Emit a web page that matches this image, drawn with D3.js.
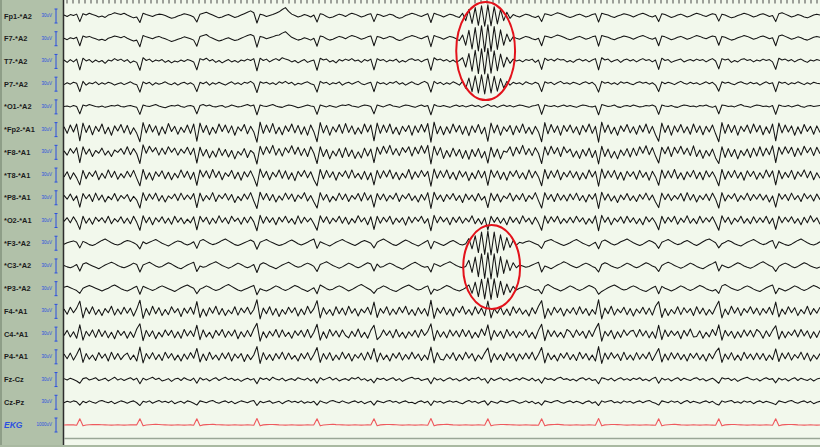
<!DOCTYPE html>
<html lang="en">
<head>
<meta charset="UTF-8">
<title>EEG page</title>
<script src="https://d3js.org/d3.v7.min.js"></script>
<style>
  body { margin: 0; background: #f2f8ec; overflow: hidden; }
  svg { display: block; }
</style>
</head>
<body>
<script>

// montage labels, top to bottom
var channelNames = ["Fp1-*A2", "F7-*A2", "T7-*A2", "P7-*A2", "*O1-*A2",
    "*Fp2-*A1", "*F8-*A1", "*T8-*A1", "*P8-*A1", "*O2-*A1",
    "*F3-*A2", "*C3-*A2", "*P3-*A2", "F4-*A1", "C4-*A1", "P4-*A1",
    "Fz-Cz", "Cz-Pz", "EKG"];
var scaleLabels = ["30uV", "30uV", "30uV", "30uV", "30uV", "30uV", "30uV", "30uV", "30uV", "30uV",
    "30uV", "30uV", "30uV", "30uV", "30uV", "30uV", "30uV", "30uV", "1000uV"];

// page length in seconds (ruler ticks every 0.1 s)
var pageSeconds = 12.6;

// samples in uV, 240 per channel
var fp1 = [
  2,-1,3,1,4,-12,5,2,6,3, 1,-2,0,-3,2,4,7,5,3,6,
  2,-1,-4,-2,-14,6,3,1,-1,2, 4,3,1,-2,-5,-3,0,2,5,3,
  1,-2,-13,4,6,8,5,2,-1,-4, -2,1,3,0,-3,-1,2,5,8,11,
  7,-15,4,2,-1,1,3,6,9,14, 18,10,4,1,-2,0,3,1,-2,2,
  -13,5,3,-1,-4,-2,1,4,2,-1, 3,6,4,1,-2,0,3,5,-12,4,
  2,-1,1,4,2,-2,-5,-3,1,3, 6,4,1,-1,2,5,-14,6,3,1,
  -2,1,4,2,-1,-3,6,-10,14,-16, 18,-20,22,-22,24,-21,20,-17,14,-10,
  8,-5,3,0,-2,1,4,2,-1,-3, 0,-12,5,3,1,4,7,5,2,-1,
  -3,-1,2,4,1,-2,0,3,5,-13, 6,4,2,-1,-3,0,2,5,3,1,
  -2,1,4,6,3,0,-2,1,-12,5, 3,0,-3,-1,2,4,1,-2,0,3,
  6,4,1,-1,2,5,3,-11,4,2, -1,-4,-2,1,3,6,4,1,-2,0,
  3,5,2,-1,1,-12,5,7,4,1, -2,0,3,1,-2,-4,-1,2,4,2
];
var f7 = [
  1,-2,2,0,3,-15,6,3,5,2, 0,-3,-1,-4,1,3,6,4,2,5,
  1,-2,-5,-3,-17,7,4,2,0,3, 5,2,0,-3,-6,-4,-1,1,4,2,
  0,-3,-16,5,7,9,4,1,-2,-5, -3,0,2,-1,-4,-2,1,4,7,9,
  6,-18,5,3,0,2,4,7,8,12, 15,9,3,0,-3,-1,2,0,-3,1,
  -16,6,4,0,-3,-1,2,5,3,0, 4,7,5,2,-1,1,4,6,-15,5,
  3,0,2,5,3,-1,-4,-2,2,4, 7,5,2,0,3,6,-17,7,4,2,
  -1,2,5,3,0,-4,8,-14,18,-22, 24,-26,28,-28,30,-27,26,-23,19,-14,
  10,-6,4,1,-1,2,5,3,0,-2, 1,-15,6,4,2,5,8,6,3,0,
  -2,0,3,5,2,-1,1,4,6,-16, 7,5,3,0,-2,1,3,6,4,2,
  -1,2,5,7,4,1,-1,2,-15,6, 4,1,-2,0,3,5,2,-1,1,4,
  7,5,2,0,3,6,4,-14,5,3, 0,-3,-1,2,4,7,5,2,-1,1,
  4,6,3,0,2,-15,6,8,5,2, -1,1,4,2,-1,-3,0,3,5,3
];
var t7 = [
  3,-2,4,-1,5,-18,7,1,4,-2, 3,-1,2,-4,3,1,6,2,5,0,
  4,-3,1,-2,-19,8,2,5,-1,3, 1,4,-2,2,-3,1,-1,3,0,4,
  2,-1,-18,6,3,7,1,4,-2,2, -3,1,4,-1,2,-2,3,1,5,2,
  6,-20,7,2,5,-1,3,6,2,8, 5,3,-1,2,-3,1,4,-2,1,3,
  -19,7,3,5,-1,2,-3,4,1,5, 2,6,1,3,-2,4,1,5,-18,6,
  2,4,-1,3,1,5,-2,2,-1,4, 6,2,4,-1,3,5,-19,8,3,5,
  1,4,-1,3,-2,2,8,-12,17,-21, 24,-26,27,-27,28,-25,23,-20,16,-12,
  9,-4,5,1,3,-1,4,2,5,-2, 3,-17,7,2,5,1,6,3,4,-1,
  2,-2,3,5,1,4,-1,3,6,-18, 8,3,5,-1,2,4,-2,3,5,1,
  4,-1,3,6,2,4,-1,3,-17,7, 2,4,-2,1,3,5,-1,2,4,1,
  5,2,4,-1,3,6,1,-16,6,3, 5,-2,2,-1,4,6,2,4,-1,3,
  1,5,2,4,-1,-17,7,3,5,1, 4,-1,3,5,1,-2,3,1,4,2
];
var p7 = [
  -1,3,0,4,2,-16,6,-2,3,1, 5,-1,3,0,4,2,-2,1,3,-1,
  2,5,1,-1,-17,5,1,4,-2,3, 0,2,5,1,-1,3,-2,2,4,0,
  3,-1,-16,4,1,5,-2,3,0,4, 1,-2,2,5,0,3,-1,4,2,6,
  1,-18,5,2,4,0,3,-1,5,2, 6,1,4,-2,2,0,3,5,1,-1,
  -17,6,2,4,-1,3,1,5,-2,2, 4,0,3,6,1,-1,2,4,-16,5,
  1,3,-1,4,2,6,0,3,-2,2, 5,1,-1,3,6,2,-17,6,1,4,
  -1,3,0,5,2,-2,6,-9,13,-16, 18,-19,20,-21,22,-19,17,-15,12,-8,
  6,-2,4,1,3,-1,5,2,0,4, 1,-16,5,2,4,-1,3,6,1,3,
  0,4,2,-1,3,5,1,4,-2,-17, 6,2,4,0,3,-1,5,2,4,1,
  -1,3,5,2,4,0,3,-2,-16,5, 1,4,2,-1,3,6,2,0,4,1,
  3,-1,2,5,1,4,-2,-15,5,2, 4,1,-1,3,5,2,0,4,1,3,
  -2,2,5,1,3,-16,5,2,4,-1, 3,1,5,2,-1,3,0,4,2,1
];
var o1 = [
  1,2,0,3,1,-15,4,2,5,3, 1,0,2,-1,1,3,2,4,1,0,
  2,3,1,-1,-16,4,2,1,3,5, 2,0,-2,1,3,2,4,1,-1,2,
  3,1,-15,3,5,2,4,1,0,2, 3,-1,1,4,2,0,1,3,5,2,
  4,-17,4,2,1,3,5,2,0,-1, 2,4,3,1,-2,0,2,4,2,1,
  -16,4,2,0,3,1,-1,2,4,3, 5,2,1,-1,2,4,3,1,-15,4,
  2,0,3,5,2,1,-1,2,4,3, 1,-1,2,4,1,3,-17,5,2,1,
  3,1,-1,2,4,1,3,0,2,4, 1,3,-1,2,5,1,3,-1,2,4,
  1,3,0,2,4,3,1,-1,2,3, 5,-16,4,2,1,3,0,2,4,1,
  3,1,-1,2,4,3,1,0,2,-17, 5,3,1,2,4,0,-1,2,3,1,
  4,2,0,1,3,2,4,1,-16,4, 2,1,3,0,-1,2,4,3,1,2,
  0,3,2,4,1,-1,2,-15,4,3, 1,2,0,3,5,2,1,-1,2,4,
  3,1,2,0,3,-16,4,2,1,3, 0,2,4,1,-1,2,3,1,2,3
];
var fp2 = [
  6,-8,10,-5,12,-24,14,-6,9,-11, 7,-4,12,-9,5,-12,8,-3,11,-7,
  9,-10,4,-8,-26,15,-7,11,-5,8, -12,6,-9,13,-4,7,-10,5,-6,10,
  -8,12,-25,14,-6,9,-11,5,-8,12, -4,10,-7,8,-12,6,-3,11,-9,7,
  -5,-27,16,-8,10,-6,13,-9,5,-11, 8,-4,12,-7,9,-10,6,-12,10,-5,
  -26,15,-7,9,-12,6,-5,11,-8,13, -6,8,-10,4,-9,12,-5,10,-24,14,
  -8,10,-6,12,-9,5,-11,7,-4,9, -12,8,-6,11,-5,13,-27,16,-9,7,
  -11,6,-8,12,-5,9,-10,7,-13,8, -6,11,-9,5,-25,14,-7,10,-12,6,
  -4,9,-11,8,-6,12,-8,5,-10,7, -5,-26,15,-9,11,-6,8,-12,9,-4,
  10,-7,6,-11,9,-5,12,-8,7,-27, 16,-6,10,-9,5,-12,8,-4,11,-7,
  6,-10,9,-5,12,-8,7,-11,-25,14, -6,9,-12,8,-5,11,-7,6,-10,12,
  -6,8,-11,7,-5,10,-9,-26,15,-8, 11,-6,9,-12,7,-4,10,-8,12,-5,
  9,-11,6,-8,12,-24,14,-7,10,-5, 8,-12,6,-9,11,-4,7,-10,8,-6
];
var f8 = [
  3,-6,8,-2,10,-22,12,-4,7,-9, 4,-2,9,-6,3,-9,5,0,8,-4,
  12,-5,8,-3,-24,16,-2,13,1,10, -6,9,-4,12,0,9,-6,7,-2,11,
  -5,9,-23,11,-8,6,-12,3,-10,9, -7,6,-10,4,-14,2,-6,8,-11,4,
  -2,-25,13,-5,12,-2,15,-6,8,-8, 10,-1,14,-4,11,-7,8,-9,12,-2,
  -24,12,-9,6,-14,3,-8,8,-11,10, -9,5,-13,1,-12,9,-8,7,-22,11,
  -4,13,-2,15,-5,8,-7,10,0,12, -8,11,-3,14,-2,15,-25,13,-6,10,
  -13,4,-10,9,-8,6,-13,4,-15,6, -9,8,-12,2,-23,11,-10,7,-14,3,
  0,12,-8,11,-3,15,-5,8,-7,10, -2,-24,12,-6,13,-3,10,-9,12,-1,
  7,-10,3,-13,6,-8,9,-11,4,-25, 13,-9,7,-12,2,-14,5,-7,8,-10,
  9,-7,12,-2,14,-5,10,-8,-23,11, -3,12,-9,11,-2,13,-4,9,-7,14,
  -9,5,-13,4,-8,7,-12,-24,12,-11, 8,-9,6,-14,4,-7,7,-11,9,-8,
  12,-8,9,-5,14,-22,11,-4,12,-2, 11,-9,9,-6,13,-1,10,-7,11,-3
];
var t8 = [
  -4,7,-9,5,-6,-21,10,-8,6,-3, 9,-10,4,-7,11,-5,8,-9,3,-6,
  8,-4,10,-7,-23,12,-9,5,-11,7, -3,9,-8,6,-10,4,-6,11,-5,8,
  -9,6,-22,11,-4,9,-7,12,-5,8, -10,5,-3,10,-8,6,-11,7,-4,9,
  -6,-24,13,-5,8,-10,6,-4,11,-7, 9,-9,5,-12,8,-3,10,-6,7,-10,
  -23,12,-8,10,-5,7,-11,6,-3,9, -7,11,-6,4,-9,8,-10,5,-21,10,
  -7,9,-4,11,-8,6,-10,4,-6,12, -9,7,-5,10,-3,8,-24,13,-7,9,
  -5,11,-8,6,-10,9,-4,7,-12,5, -8,10,-6,8,-22,11,-5,9,-9,6,
  -11,8,-3,10,-7,5,-9,11,-6,8, -4,-23,12,-8,9,-5,11,-10,6,-4,
  9,-6,7,-10,5,-8,11,-4,8,-24, 13,-7,9,-5,10,-9,6,-11,8,-3,
  7,-9,10,-5,6,-11,8,-4,-22,11, -7,9,-6,12,-8,5,-10,7,-4,10,
  -8,6,-10,9,-4,7,-6,-23,12,-9, 8,-5,10,-7,6,-11,9,-3,8,-9,
  5,-7,11,-4,9,-21,10,-8,6,-5, 10,-9,7,-3,11,-6,8,-10,5,-7
];
var p8 = [
  5,-3,8,-6,4,-20,9,-2,7,-8, 10,-5,6,-9,3,-4,9,-7,5,-2,
  7,-8,3,-5,-22,11,-6,8,-3,10, -7,5,-9,4,-2,8,-6,10,-4,6,
  -3,9,-21,10,-7,5,-4,11,-8,6, -2,9,-5,7,-10,3,-6,8,-3,11,
  -7,-23,12,-4,9,-6,7,-9,4,-5, 10,-3,8,-8,6,-2,11,-7,5,-9,
  -22,11,-5,7,-9,3,-6,10,-4,8, -8,5,-3,9,-7,11,-5,6,-20,9,
  -4,8,-7,5,-3,10,-8,6,-2,9, -6,4,-9,7,-5,11,-23,12,-4,6,
  -8,7,-3,9,-6,5,-10,8,-4,6, -7,9,-5,3,-21,10,-6,8,-9,4,
  -2,10,-7,6,-4,9,-8,5,-3,11, -6,-22,11,-4,7,-8,9,-5,6,-7,
  8,-4,10,-6,5,-9,7,-3,9,-23, 12,-5,8,-7,4,-10,6,-4,9,-6,
  4,-8,7,-3,10,-5,6,-9,-21,10, -4,8,-6,5,-3,9,-7,11,-5,7,
  -9,5,-4,8,-6,10,-3,-22,11,-7, 6,-2,9,-8,5,-4,10,-6,7,-3,
  8,-5,6,-9,4,-20,9,-3,7,-6, 10,-4,5,-8,9,-2,6,-7,8,-4
];
var o2 = [
  -2,6,-5,8,-3,-19,9,-6,5,-8, 7,-2,6,-5,9,-7,4,-3,8,-6,
  5,-7,9,-4,-21,10,-5,7,-9,6, -3,8,-6,5,-8,9,-4,6,-7,3,
  -5,8,-20,9,-3,7,-8,5,-6,10, -4,6,-7,9,-2,5,-8,7,-5,8,
  -3,-22,11,-6,8,-4,6,-9,7,-3, 9,-5,4,-8,10,-6,7,-3,5,-7,
  -21,10,-4,8,-7,5,-3,9,-6,7, -8,4,-5,10,-3,6,-9,8,-19,9,
  -6,7,-3,9,-8,5,-4,6,-10,8, -5,7,-2,9,-6,4,-22,11,-5,8,
  -3,6,-9,7,-4,8,-6,5,-3,10, -7,4,-8,6,-20,9,-4,7,-6,5,
  -9,8,-4,6,-7,10,-3,5,-8,7, -5,-21,10,-6,8,-3,9,-7,4,-5,
  7,-5,9,-3,6,-8,4,-6,10,-22, 11,-4,7,-9,5,-3,8,-6,9,-4,
  6,-7,4,-9,8,-3,6,-5,-20,9, -6,7,-3,9,-8,5,-4,10,-6,4,
  -7,9,-5,6,-3,8,-6,-21,10,-4, 7,-8,5,-3,9,-6,4,-7,8,-5,
  6,-4,9,-7,5,-19,9,-5,7,-3, 8,-6,4,-9,7,-5,10,-3,6,-8
];
var f3 = [
  -2,1,3,5,2,-10,4,1,-3,-5, -2,2,6,9,5,1,-2,-4,-1,3,
  6,4,1,-3,-12,3,-1,2,5,8, 4,0,-3,-6,-2,2,5,3,-1,-4,
  -1,3,-11,5,8,4,0,-3,-1,2, 6,9,5,1,-3,-5,-2,1,4,7,
  3,-13,2,5,8,4,1,-2,-5,-3, 0,4,7,3,-1,-4,-1,2,6,9,
  -11,3,0,-3,-6,-2,2,5,8,4, 1,-2,-5,-1,3,6,3,0,-10,2,
  6,9,5,1,-3,-5,-1,3,7,4, 0,-3,-6,-2,2,6,-12,4,1,-2,
  -5,-1,3,6,2,-2,-4,-1,10,-12, 16,-20,24,-24,26,-25,24,-21,18,-15,
  12,-9,6,-4,2,0,3,5,2,-1, -4,-11,3,6,8,4,1,-2,-5,-2,
  1,5,8,4,0,-3,-6,-2,2,-12, 4,7,3,-1,-4,-1,3,6,9,5,
  1,-2,-5,-2,2,6,3,-1,-11,2, 5,8,4,0,-3,-1,3,6,2,-2,
  -5,-1,3,7,9,5,1,-10,-1,2, 6,3,-1,-4,-6,-2,2,5,8,4,
  0,-3,-1,3,6,-11,3,0,-3,-5, -2,2,6,9,5,1,-2,-4,-1,3
];
var c3 = [
  1,-2,-4,-1,3,-11,4,7,3,0, -3,-6,-2,2,5,8,5,1,-2,-4,
  -1,2,6,3,-13,2,5,8,4,0, -3,-1,3,7,4,0,-4,-6,-2,2,
  5,8,-12,0,-3,-1,3,6,9,5, 1,-2,-5,-2,2,6,3,-1,-4,-1,
  3,-14,3,7,4,0,-3,-6,-2,2, 5,8,4,0,-3,-1,3,6,3,-1,
  -12,3,6,9,5,1,-2,-5,-2,2, 6,3,-1,-4,-1,3,7,4,-11,4,
  -3,-1,3,6,3,-1,-4,-7,-3,1, 5,8,4,0,-3,-1,-13,5,2,-1,
  3,6,9,5,1,-2,-4,-1,12,-14, 19,-23,26,-27,28,-28,26,-24,20,-16,
  13,-10,7,-4,2,0,-3,-1,2,5, 8,-13,0,-3,-6,-2,2,5,9,6,
  2,-1,-4,-1,3,6,3,-1,-4,-13, 3,7,4,0,-3,-5,-2,2,6,3,
  -1,-4,-1,3,7,4,0,-3,-12,1, 5,8,5,1,-2,-5,-2,2,6,3,
  -1,-4,-6,-2,2,5,9,-11,2,-1, -4,-1,3,7,4,0,-3,-5,-2,2,
  6,9,5,1,-2,-12,-1,3,6,3, -1,-4,-1,3,7,4,0,-3,-5,-2
];
var p3 = [
  3,5,2,-1,-4,-10,1,4,7,4, 1,-2,-5,-2,1,5,8,4,0,-3,
  -5,-2,2,5,-12,5,2,-1,-4,-1, 3,6,3,0,-3,-6,-2,2,5,8,
  4,1,-11,-1,2,6,3,-1,-4,-2, 2,6,9,5,1,-3,-5,-2,1,4,
  7,-13,0,-3,-5,-2,2,6,3,-1, -4,-1,3,7,4,0,-3,-6,-2,2,
  -11,8,4,0,-3,-1,3,6,3,-1, -5,-2,2,6,9,5,1,-3,-10,-1,
  2,6,3,-1,-4,-6,-2,2,5,8, 4,0,-3,-1,3,6,-12,-1,-4,-1,
  3,7,4,0,-3,-5,-2,2,8,-10, 14,-17,20,-22,23,-23,21,-19,16,-13,
  10,-8,5,-3,1,3,6,3,-1,-4, -2,-11,5,9,5,1,-2,-5,-2,2,
  6,3,-1,-4,-1,3,7,4,0,-12, -6,-2,2,5,8,4,0,-3,-1,3,
  6,3,-1,-4,-6,-2,2,5,-11,5, 1,-2,-5,-2,2,6,3,-1,-4,-1,
  3,7,4,0,-3,-5,-2,-10,6,9, 5,1,-2,-4,-1,3,6,3,-1,-4,
  -6,-2,2,5,8,-11,1,-2,-5,-2, 2,6,3,-1,-4,-1,3,7,4,0
];
var f4 = [
  5,-6,9,-3,7,22,-14,8,-5,10, -7,4,-9,6,-3,11,-8,5,-6,9,
  -4,7,-10,5,24,-15,6,-8,11,-5, 8,-9,4,-7,10,-3,6,-11,7,-4,
  9,-6,21,-13,5,-10,8,-4,11,-7, 6,-9,3,-5,10,-8,7,-3,9,-6,
  4,25,-16,7,-5,10,-8,6,-11,4, -6,9,-3,8,-10,5,-7,11,-4,6,
  23,-14,8,-6,4,-9,10,-5,7,-8, 11,-4,6,-10,5,-3,9,-7,20,-13,
  6,-4,10,-8,5,-6,9,-3,11,-7, 4,-9,8,-5,6,-10,24,-15,7,-4,
  9,-7,5,-10,8,-3,11,-6,4,-8, 10,-5,7,-9,22,-14,6,-4,9,-7,
  5,-9,10,-4,7,-6,3,-10,8,-5, 11,23,-15,6,-8,9,-3,7,-10,5,
  -4,8,-7,10,-5,6,-9,4,-6,25, -16,7,-5,11,-8,5,-3,9,-7,6,
  -10,5,-4,9,-6,7,-8,11,21,-13, 6,-9,4,-5,10,-7,8,-3,6,-9,
  10,-5,7,-8,4,-6,9,22,-14,5, -7,11,-4,8,-9,6,-3,10,-5,7,
  -8,6,-4,9,-7,20,-12,5,-6,10, -3,8,-9,4,-5,11,-7,6,-4,9
];
var c4 = [
  -3,8,-6,5,-9,20,-13,6,-4,9, -7,10,-5,7,-8,4,-10,8,-3,6,
  -9,5,-7,11,22,-14,8,-5,7,-10, 4,-6,9,-3,8,-8,5,-9,10,-4,
  7,-5,19,-12,9,-6,4,-9,8,-3, 10,-7,6,-4,9,-10,5,-6,8,-5,
  11,23,-15,5,-8,6,-4,10,-7,9, -5,4,-9,7,-3,8,-6,10,-8,4,
  21,-13,5,-9,10,-4,7,-6,9,-3, -8,6,-5,11,-7,4,-9,8,19,-12,
  -5,9,-3,7,-8,10,-6,4,-9,5, -4,8,-7,10,-3,6,22,-14,8,-6,
  5,-8,9,-4,7,-6,10,-5,8,-9, 4,-7,11,-3,20,-13,8,-5,6,-9,
  10,-4,6,-8,5,-3,9,-7,4,-10, 8,21,-14,9,-5,7,-6,4,-8,10,
  5,-7,9,-3,6,-9,8,-5,11,23, -15,6,-4,8,-10,5,-7,9,-3,6,
  8,-6,10,-4,7,-8,5,-9,19,-12, 9,-5,7,-3,6,-10,8,-4,11,-6,
  -5,7,-9,4,-6,10,-3,20,-13,8, -4,6,-9,5,-7,9,-4,8,-6,10,
  4,-9,7,-5,8,18,-11,6,-8,5, -3,9,-6,10,-4,7,-9,5,-7,8
];
var p4 = [
  6,-4,8,-7,5,19,-12,7,-5,4, -8,9,-3,6,-9,10,-5,7,-6,3,
  8,-6,4,-9,21,-13,7,-4,9,-6, 5,-8,10,-3,7,-7,4,-9,6,-5,
  9,-3,18,-11,6,-8,10,-5,4,-7, 8,-4,9,-9,6,-3,7,-10,5,-6,
  4,22,-14,9,-6,5,-8,7,-4,10, -6,8,-5,3,-9,7,-4,9,-7,5,
  20,-12,7,-5,9,-8,4,-6,10,-4, 7,-9,5,-3,8,-7,10,-5,18,-11,
  8,-6,4,-9,7,-3,9,-7,5,-5, 10,-4,6,-8,4,-6,21,-13,9,-5,
  -7,6,-4,9,-8,5,-6,10,-3,7, -9,4,-5,8,19,-12,7,-6,5,-8,
  9,-3,7,-9,6,-5,8,-4,10,-7, 5,20,-13,8,-6,4,-9,7,-3,9,
  -6,5,-8,10,-4,7,-7,4,-9,22, -14,8,-5,9,-3,6,-8,10,-6,4,
  -7,9,-5,6,-4,10,-8,5,18,-11, 6,-7,9,-4,8,-6,5,-9,7,-3,
  8,-6,5,-9,7,-4,10,19,-12,6, -5,9,-7,4,-8,10,-4,6,-6,8,
  -5,7,-8,4,-6,17,-10,8,-4,9, -7,5,-3,10,-6,8,-9,4,-5,7
];
var fzCz = [
  2,-1,3,0,-3,-8,2,4,-1,1, 4,-2,0,3,-3,1,5,-1,2,-2,
  1,4,-1,3,-9,3,-1,2,5,0, 3,-3,-1,2,-4,1,3,-2,4,0,
  -2,3,-8,4,-1,2,-3,1,4,-2, 2,5,0,3,-2,1,-4,0,3,-1,
  2,-9,4,0,3,-2,5,1,-1,3, -3,0,2,-2,4,1,-1,3,-3,2,
  -8,4,-1,2,5,-1,3,-3,0,2, -2,4,1,5,-1,2,-3,1,-7,3,
  0,3,-2,1,4,-2,2,-4,0,3, 5,1,3,-2,0,2,-9,4,-1,2,
  -3,1,4,-1,2,-3,0,4,-2,3, 1,5,-1,2,-8,3,-2,1,4,-1,
  2,-3,0,3,-1,4,1,-2,3,-3, 1,-8,4,0,2,-2,3,5,0,2,
  -2,1,-3,2,4,-1,3,-2,0,-9, 4,2,-1,3,-3,1,4,-1,2,-2,
  3,0,4,-2,1,-3,2,5,-8,3, -1,2,-3,1,4,-2,3,0,-2,2,
  4,-1,2,-3,0,3,-2,-8,4,1, 3,-2,2,-4,0,3,5,1,-1,2,
  -3,1,4,0,2,-7,3,-1,2,-3, 1,4,-2,3,0,-2,2,-3,1,3
];
var czPz = [
  -1,2,0,3,1,-6,2,-1,3,0, -2,2,4,1,-1,2,-3,0,3,1,
  -2,1,3,-1,-7,2,0,3,-2,1, 4,0,2,-1,3,-3,0,2,-2,3,
  1,-2,-6,3,1,-1,2,4,0,-2, 1,3,-1,2,-3,0,3,1,-1,2,
  4,-7,2,-1,1,3,-2,0,2,-3, 1,4,0,2,-1,3,-2,1,-1,2,
  -6,3,0,-2,2,4,1,-1,3,0, -2,1,3,-1,2,-3,0,2,-6,3,
  1,-1,2,4,0,2,-2,1,3,-1, 0,-3,1,3,-1,2,-7,3,0,2,
  -2,1,3,0,2,-1,-3,1,4,0, 2,-2,1,3,-6,2,0,-2,3,1,
  -1,2,4,1,-2,0,3,-1,2,-3, 0,-6,3,1,-1,2,4,0,-2,1,
  3,-1,2,0,-3,1,3,-2,1,-7, 3,0,2,4,-1,1,-2,3,0,2,
  -2,1,3,-1,2,4,0,-2,-6,3, 1,-1,3,0,2,-3,1,4,-1,2,
  0,-2,1,3,-1,2,-3,-6,3,0, 2,4,-1,1,-2,3,0,2,-3,1,
  3,-1,2,0,-2,-5,3,1,-1,2, 4,0,-2,1,3,-1,2,-3,0,2
];
var ekg = [
  0,10,20,10,-20,450,-60,0,20,30, 40,30,20,10,0,-10,0,10,0,-10,
  0,10,20,10,450,-60,0,20,40,50, 40,20,10,0,-10,0,10,0,-10,0,
  10,-20,440,-50,10,30,40,50,30,20, 10,0,-10,0,10,0,-10,0,10,0,
  -20,460,-60,10,30,40,40,30,10,0, -10,0,10,0,-10,-10,0,10,0,10,
  450,-60,0,20,40,50,30,20,10,0, -10,0,10,0,-10,0,10,0,440,-50,
  10,30,40,40,30,20,0,-10,0,10, 0,-10,0,10,0,-20,460,-60,10,30,
  40,50,30,10,0,-10,0,10,0,-10, 0,10,0,-20,450,-60,0,20,40,40,
  30,20,10,0,-10,0,10,0,-10,0, -20,450,-60,10,30,40,50,30,10,0,
  -10,0,10,0,-10,0,10,0,-20,460, -60,10,20,40,40,30,20,0,-10,0,
  10,0,-10,0,10,0,-10,-20,450,-60, 0,20,40,50,30,10,0,-10,0,10,
  0,-10,0,10,0,-10,-20,450,-60,10, 30,40,40,20,10,0,-10,0,10,0,
  -10,0,10,0,-20,440,-50,10,30,40, 40,30,10,0,-10,0,10,0,-10,0
];

// red marks around the two bursts: centre sample, centre row, half width (samples), half height (rows)
var markSample = [133.3, 135.2];
var markRow = [1.54, 11.05];
var markHalfW = [9.3, 9.0];
var markHalfH = [2.16, 1.85];

var channelData = [fp1, f7, t7, p7, o1, fp2, f8, t8, p8, o2, f3, c3, p3, f4, c4, p4, fzCz, czPz, ekg];

var width = 820, height = 447;
var left = 64;

var svg = d3.select("body").append("svg")
    .attr("width", width)
    .attr("height", height);

var xScale = d3.scaleLinear().domain([0, fp1.length - 1]).range([left, width]);
var tScale = d3.scaleLinear().domain([0, pageSeconds]).range([left, width]);
var rowScale = d3.scaleLinear().domain([0, 18]).range([16, 425]);
var uvScale = d3.scaleLinear().domain([-15, 15]).range([7, -7]);
var ekgScale = d3.scaleLinear().domain([-500, 500]).range([7, -7]);

// backgrounds
svg.append("rect").attr("x", left).attr("y", 0).attr("width", width - left).attr("height", height).attr("fill", "#f2f8ec");
svg.append("rect").attr("x", 0).attr("y", 0).attr("width", left - 1).attr("height", height).attr("fill", "#b1c1a9");
svg.append("rect").attr("x", 0).attr("y", 0).attr("width", 2).attr("height", height).attr("fill", "#8e9e88");
svg.append("line").attr("x1", left - 0.5).attr("x2", left - 0.5).attr("y1", 0).attr("y2", height)
    .attr("stroke", "#2d2d2d").attr("stroke-width", 1.5);

// ruler ticks on top
svg.selectAll("line.tick").data(d3.range(0.05, pageSeconds, 0.1)).enter().append("line")
    .attr("class", "tick")
    .attr("x1", function (d) { return tScale(d); })
    .attr("x2", function (d) { return tScale(d); })
    .attr("y1", 0).attr("y2", 3.5)
    .attr("stroke", "#333").attr("stroke-width", 0.9);

// bottom lines
svg.append("line").attr("x1", left).attr("x2", width).attr("y1", 438.5).attr("y2", 438.5)
    .attr("stroke", "#9aa696").attr("stroke-width", 1.5);
svg.append("line").attr("x1", 0).attr("x2", width).attr("y1", 446).attr("y2", 446)
    .attr("stroke", "#a9b9a1").attr("stroke-width", 2);

// channel labels
svg.selectAll("text.name").data(channelNames).enter().append("text")
    .attr("class", "name")
    .attr("x", 4)
    .attr("y", function (d, i) { return rowScale(i) + 2.5; })
    .attr("font-family", "Liberation Sans, Arial, sans-serif")
    .attr("font-size", function (d, i) { return i == 18 ? 8.5 : 7.4; })
    .attr("font-weight", "bold")
    .attr("font-style", function (d, i) { return i == 18 ? "italic" : "normal"; })
    .attr("fill", function (d, i) { return i == 18 ? "#2b4fe0" : "#1c1c1c"; })
    .text(function (d) { return d; });

// calibration text + bars
svg.selectAll("text.cal").data(scaleLabels).enter().append("text")
    .attr("class", "cal")
    .attr("x", 52)
    .attr("y", function (d, i) { return rowScale(i) + 1; })
    .attr("text-anchor", "end")
    .attr("font-family", "Liberation Sans, Arial, sans-serif")
    .attr("font-size", 4.5)
    .attr("fill", "#2b4fe0")
    .text(function (d) { return d; });

var cal = svg.selectAll("g.cal").data(channelNames).enter().append("g")
    .attr("class", "cal")
    .attr("transform", function (d, i) { return "translate(56," + rowScale(i) + ")"; })
    .attr("stroke", "#2b4fe0").attr("stroke-width", 1);
cal.append("line").attr("x1", 0).attr("x2", 0).attr("y1", uvScale(-15)).attr("y2", uvScale(15));
cal.append("line").attr("x1", -1.5).attr("x2", 1.5).attr("y1", uvScale(-15)).attr("y2", uvScale(-15));
cal.append("line").attr("x1", -1.5).attr("x2", 1.5).attr("y1", uvScale(15)).attr("y2", uvScale(15));

// traces
svg.selectAll("path.trace").data(channelData).enter().append("path")
    .attr("class", "trace")
    .attr("fill", "none")
    .attr("stroke", function (d, i) { return i == 18 ? "#ee5a5e" : "#141414"; })
    .attr("stroke-width", function (d, i) { return i == 18 ? 1.1 : 1.05; })
    .attr("stroke-linejoin", "round")
    .attr("d", function (d, i) {
        var yS = i == 18 ? ekgScale : uvScale;
        var base = rowScale(i);
        return d3.line()
            .x(function (v, j) { return xScale(j); })
            .y(function (v) { return base + yS(v); })(d);
    });

// red ellipses
svg.selectAll("ellipse.mark").data(markSample).enter().append("ellipse")
    .attr("class", "mark")
    .attr("cx", function (d) { return xScale(d); })
    .attr("cy", function (d, i) { return rowScale(markRow[i]); })
    .attr("rx", function (d, i) { return xScale(d + markHalfW[i]) - xScale(d); })
    .attr("ry", function (d, i) { return rowScale(markRow[i] + markHalfH[i]) - rowScale(markRow[i]); })
    .attr("fill", "none")
    .attr("stroke", "#e3121b")
    .attr("stroke-width", 2);

</script>
</body>
</html>
